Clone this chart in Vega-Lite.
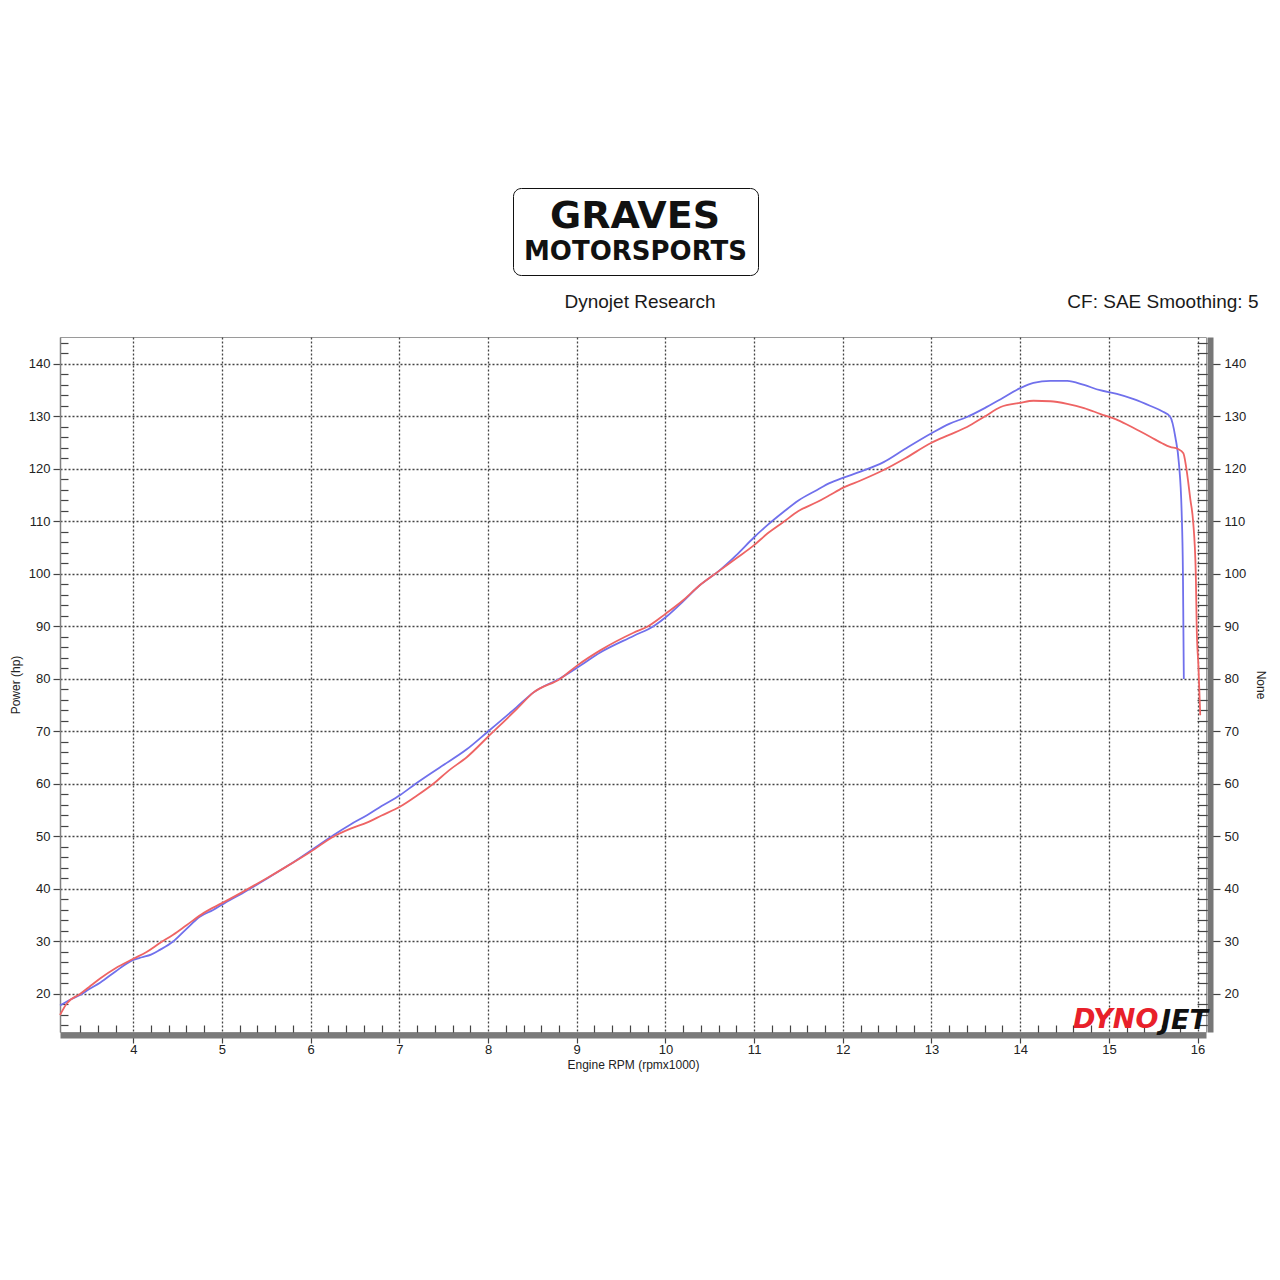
{
  "$schema": "https://vega.github.io/schema/vega-lite/v6.json",
  "width": 1146,
  "height": 695,
  "autosize": {"type": "none"},
  "padding": {"left": 60, "top": 337, "right": 74, "bottom": 248},
  "background": "white",
  "config": {
    "view": {"stroke": "#9a9a9a", "strokeWidth": 1},
    "font": "Liberation Sans"
  },
  "title": {"text": "Dynojet Research", "anchor": "middle", "fontSize": 19, "fontWeight": "normal", "font": "Liberation Sans", "color": "#1a1a1a", "offset": -124, "dx": 7},
  "data": {"values": [
    {"series":"Run 1","rpm":3.174,"hp":17.8},{"series":"Run 1","rpm":3.3,"hp":19.0},{"series":"Run 1","rpm":3.4,"hp":19.8},{"series":"Run 1","rpm":3.5,"hp":20.9},{"series":"Run 1","rpm":3.63,"hp":22.2},{"series":"Run 1","rpm":3.8,"hp":24.3},{"series":"Run 1","rpm":4.0,"hp":26.5},{"series":"Run 1","rpm":4.1,"hp":27.0},{"series":"Run 1","rpm":4.2,"hp":27.5},{"series":"Run 1","rpm":4.3,"hp":28.4},{"series":"Run 1","rpm":4.45,"hp":30.0},{"series":"Run 1","rpm":4.6,"hp":32.4},{"series":"Run 1","rpm":4.75,"hp":34.7},{"series":"Run 1","rpm":4.9,"hp":36.0},{"series":"Run 1","rpm":5.0,"hp":37.0},{"series":"Run 1","rpm":5.25,"hp":39.4},{"series":"Run 1","rpm":5.5,"hp":41.9},{"series":"Run 1","rpm":5.75,"hp":44.5},{"series":"Run 1","rpm":6.0,"hp":47.3},{"series":"Run 1","rpm":6.26,"hp":50.3},{"series":"Run 1","rpm":6.45,"hp":52.3},{"series":"Run 1","rpm":6.64,"hp":54.1},{"series":"Run 1","rpm":6.8,"hp":55.8},{"series":"Run 1","rpm":7.01,"hp":57.9},{"series":"Run 1","rpm":7.18,"hp":60.0},{"series":"Run 1","rpm":7.46,"hp":63.2},{"series":"Run 1","rpm":7.76,"hp":66.6},{"series":"Run 1","rpm":8.0,"hp":70.0},{"series":"Run 1","rpm":8.32,"hp":74.6},{"series":"Run 1","rpm":8.51,"hp":77.4},{"series":"Run 1","rpm":8.82,"hp":80.2},{"series":"Run 1","rpm":9.0,"hp":82.1},{"series":"Run 1","rpm":9.27,"hp":85.1},{"series":"Run 1","rpm":9.64,"hp":88.2},{"series":"Run 1","rpm":9.87,"hp":90.1},{"series":"Run 1","rpm":10.02,"hp":92.0},{"series":"Run 1","rpm":10.2,"hp":94.8},{"series":"Run 1","rpm":10.39,"hp":97.9},{"series":"Run 1","rpm":10.59,"hp":100.4},{"series":"Run 1","rpm":10.8,"hp":103.6},{"series":"Run 1","rpm":11.0,"hp":107.0},{"series":"Run 1","rpm":11.15,"hp":109.3},{"series":"Run 1","rpm":11.33,"hp":111.8},{"series":"Run 1","rpm":11.5,"hp":114.0},{"series":"Run 1","rpm":11.71,"hp":116.0},{"series":"Run 1","rpm":11.85,"hp":117.3},{"series":"Run 1","rpm":12.0,"hp":118.3},{"series":"Run 1","rpm":12.2,"hp":119.5},{"series":"Run 1","rpm":12.46,"hp":121.3},{"series":"Run 1","rpm":12.7,"hp":123.8},{"series":"Run 1","rpm":13.0,"hp":126.8},{"series":"Run 1","rpm":13.2,"hp":128.6},{"series":"Run 1","rpm":13.4,"hp":129.9},{"series":"Run 1","rpm":13.6,"hp":131.6},{"series":"Run 1","rpm":13.78,"hp":133.3},{"series":"Run 1","rpm":14.0,"hp":135.4},{"series":"Run 1","rpm":14.15,"hp":136.4},{"series":"Run 1","rpm":14.34,"hp":136.8},{"series":"Run 1","rpm":14.53,"hp":136.8},{"series":"Run 1","rpm":14.72,"hp":136.0},{"series":"Run 1","rpm":14.9,"hp":135.0},{"series":"Run 1","rpm":15.09,"hp":134.3},{"series":"Run 1","rpm":15.28,"hp":133.3},{"series":"Run 1","rpm":15.47,"hp":132.0},{"series":"Run 1","rpm":15.6,"hp":131.0},{"series":"Run 1","rpm":15.69,"hp":130.0},{"series":"Run 1","rpm":15.75,"hp":126.0},{"series":"Run 1","rpm":15.79,"hp":121.0},{"series":"Run 1","rpm":15.82,"hp":112.0},{"series":"Run 1","rpm":15.835,"hp":100.0},{"series":"Run 1","rpm":15.84,"hp":90.0},{"series":"Run 1","rpm":15.845,"hp":80.0},
    {"series":"Run 2","rpm":3.174,"hp":16.0},{"series":"Run 2","rpm":3.25,"hp":18.2},{"series":"Run 2","rpm":3.4,"hp":20.0},{"series":"Run 2","rpm":3.5,"hp":21.3},{"series":"Run 2","rpm":3.63,"hp":23.0},{"series":"Run 2","rpm":3.8,"hp":24.9},{"series":"Run 2","rpm":4.0,"hp":26.7},{"series":"Run 2","rpm":4.15,"hp":28.0},{"series":"Run 2","rpm":4.3,"hp":29.7},{"series":"Run 2","rpm":4.45,"hp":31.3},{"series":"Run 2","rpm":4.6,"hp":33.1},{"series":"Run 2","rpm":4.8,"hp":35.5},{"series":"Run 2","rpm":5.0,"hp":37.3},{"series":"Run 2","rpm":5.25,"hp":39.6},{"series":"Run 2","rpm":5.5,"hp":42.0},{"series":"Run 2","rpm":5.75,"hp":44.5},{"series":"Run 2","rpm":6.0,"hp":47.1},{"series":"Run 2","rpm":6.26,"hp":50.0},{"series":"Run 2","rpm":6.45,"hp":51.5},{"series":"Run 2","rpm":6.64,"hp":52.7},{"series":"Run 2","rpm":6.8,"hp":54.0},{"series":"Run 2","rpm":7.01,"hp":55.7},{"series":"Run 2","rpm":7.2,"hp":57.8},{"series":"Run 2","rpm":7.38,"hp":60.0},{"series":"Run 2","rpm":7.56,"hp":62.6},{"series":"Run 2","rpm":7.76,"hp":65.1},{"series":"Run 2","rpm":8.0,"hp":69.0},{"series":"Run 2","rpm":8.32,"hp":74.2},{"series":"Run 2","rpm":8.51,"hp":77.4},{"series":"Run 2","rpm":8.82,"hp":80.1},{"series":"Run 2","rpm":9.0,"hp":82.5},{"series":"Run 2","rpm":9.27,"hp":85.5},{"series":"Run 2","rpm":9.64,"hp":88.8},{"series":"Run 2","rpm":9.8,"hp":90.0},{"series":"Run 2","rpm":10.0,"hp":92.4},{"series":"Run 2","rpm":10.2,"hp":95.0},{"series":"Run 2","rpm":10.39,"hp":97.9},{"series":"Run 2","rpm":10.59,"hp":100.4},{"series":"Run 2","rpm":10.8,"hp":103.0},{"series":"Run 2","rpm":11.0,"hp":105.5},{"series":"Run 2","rpm":11.15,"hp":107.7},{"series":"Run 2","rpm":11.33,"hp":109.9},{"series":"Run 2","rpm":11.5,"hp":112.0},{"series":"Run 2","rpm":11.71,"hp":113.7},{"series":"Run 2","rpm":11.85,"hp":115.0},{"series":"Run 2","rpm":12.0,"hp":116.4},{"series":"Run 2","rpm":12.2,"hp":117.8},{"series":"Run 2","rpm":12.46,"hp":119.8},{"series":"Run 2","rpm":12.7,"hp":122.0},{"series":"Run 2","rpm":13.0,"hp":125.0},{"series":"Run 2","rpm":13.2,"hp":126.5},{"series":"Run 2","rpm":13.4,"hp":128.0},{"series":"Run 2","rpm":13.6,"hp":130.0},{"series":"Run 2","rpm":13.78,"hp":131.8},{"series":"Run 2","rpm":14.0,"hp":132.6},{"series":"Run 2","rpm":14.15,"hp":133.0},{"series":"Run 2","rpm":14.34,"hp":132.9},{"series":"Run 2","rpm":14.53,"hp":132.4},{"series":"Run 2","rpm":14.72,"hp":131.6},{"series":"Run 2","rpm":14.9,"hp":130.5},{"series":"Run 2","rpm":15.1,"hp":129.3},{"series":"Run 2","rpm":15.28,"hp":127.8},{"series":"Run 2","rpm":15.47,"hp":126.1},{"series":"Run 2","rpm":15.6,"hp":124.9},{"series":"Run 2","rpm":15.69,"hp":124.2},{"series":"Run 2","rpm":15.78,"hp":123.8},{"series":"Run 2","rpm":15.84,"hp":123.0},{"series":"Run 2","rpm":15.87,"hp":120.5},{"series":"Run 2","rpm":15.92,"hp":114.0},{"series":"Run 2","rpm":15.95,"hp":110.0},{"series":"Run 2","rpm":15.98,"hp":100.0},{"series":"Run 2","rpm":15.99,"hp":90.0},{"series":"Run 2","rpm":16.01,"hp":82.3},{"series":"Run 2","rpm":16.03,"hp":73.1}
  ]},
  "layer": [
    {
      "transform": [{"filter": "datum.series === 'Run 1'"}],
      "mark": {"type": "line", "strokeWidth": 1.8, "interpolate": "monotone"},
      "encoding": {
        "x": {"field": "rpm", "type": "quantitative",
          "scale": {"domain": [3.174, 16.095], "nice": false, "zero": false},
          "axis": {
            "orient": "bottom",
            "values": [3.4,3.6,3.8,4,4.2,4.4,4.6,4.8,5,5.2,5.4,5.6,5.8,6,6.2,6.4,6.6,6.8,7,7.2,7.4,7.6,7.8,8,8.2,8.4,8.6,8.8,9,9.2,9.4,9.6,9.8,10,10.2,10.4,10.6,10.8,11,11.2,11.4,11.6,11.8,12,12.2,12.4,12.6,12.8,13,13.2,13.4,13.6,13.8,14,14.2,14.4,14.6,14.8,15,15.2,15.4,15.6,15.8,16],
            "title": "Engine RPM (rpmx1000)",
            "titleFontSize": 12, "titleFontWeight": "normal", "titleColor": "#222", "titlePadding": 3,
            "labelExpr": "abs(datum.value - round(datum.value)) < 0.01 ? format(round(datum.value), 'd') : ''",
            "labelFontSize": 13, "labelColor": "#222", "labelPadding": 0, "labelFlush": false, "labelOverlap": false, "labelBound": false,
            "domainColor": "#7a7a7a", "domainWidth": 6, "offset": 3,
            "tickColor": "#444", "tickWidth": 1.2,
            "tickSize": {"condition": {"test": "abs(datum.value - round(datum.value)) < 0.01", "value": 8}, "value": -10},
            "grid": true, "gridColor": "#444", "gridDash": [2, 2], "gridWidth": 1.3,
            "gridOpacity": {"condition": {"test": "abs(datum.value - round(datum.value)) < 0.01", "value": 1}, "value": 0}
          }
        },
        "y": {"field": "hp", "type": "quantitative",
          "scale": {"domain": [12.76, 145.14], "nice": false, "zero": false},
          "axis": {
            "orient": "left",
            "values": [14,16,18,20,22,24,26,28,30,32,34,36,38,40,42,44,46,48,50,52,54,56,58,60,62,64,66,68,70,72,74,76,78,80,82,84,86,88,90,92,94,96,98,100,102,104,106,108,110,112,114,116,118,120,122,124,126,128,130,132,134,136,138,140,142,144],
            "title": "Power (hp)", "titleFontSize": 12, "titleFontWeight": "normal", "titleColor": "#222", "titlePadding": 6,
            "labelExpr": "datum.value % 10 === 0 ? datum.value : ''",
            "labelFontSize": 13, "labelColor": "#222", "labelPadding": 3, "labelOverlap": false, "labelBound": false,
            "domainColor": "#808080", "domainWidth": 1.5,
            "tickColor": "#444", "tickWidth": 1.2,
            "tickSize": {"condition": {"test": "datum.value % 10 === 0", "value": 7}, "value": -8},
            "grid": true, "gridColor": "#444", "gridDash": [2, 2], "gridWidth": 1.3,
            "gridOpacity": {"condition": {"test": "datum.value % 10 === 0", "value": 1}, "value": 0}
          }
        },
        "color": {"field": "series", "type": "nominal",
          "scale": {"domain": ["Run 1", "Run 2"], "range": ["#7070ec", "#ee6464"]},
          "legend": {
            "orient": "none", "legendX": 453, "legendY": -149,
            "title": "GRAVES", "titleFont": "DejaVu Sans", "titleFontSize": 38, "titleFontWeight": 900, "titleColor": "#111", "titlePadding": 3, "titleLimit": 400, "titleAnchor": "middle",
            "values": ["Run 1"], "labelExpr": "'MOTORSPORTS'", "labelFont": "DejaVu Sans", "labelFontSize": 26, "labelFontWeight": "bold", "labelColor": "#111", "labelLimit": 400, "labelOffset": -25,
            "symbolType": "circle", "symbolOpacity": 0, "symbolSize": 0, "symbolStrokeWidth": 0,
            "strokeColor": "#111", "cornerRadius": 8, "padding": 10, "fillColor": "white"
          }
        }
      }
    },
    {
      "transform": [{"filter": "datum.series === 'Run 2'"}],
      "mark": {"type": "line", "strokeWidth": 1.8, "interpolate": "monotone"},
      "encoding": {
        "x": {"field": "rpm", "type": "quantitative",
          "scale": {"domain": [3.174, 16.095], "nice": false, "zero": false},
          "axis": {
            "orient": "top", "domain": false, "ticks": false, "labels": false, "grid": false,
            "title": "CF: SAE Smoothing: 5", "titleFontSize": 19, "titleFontWeight": "normal", "titleColor": "#1a1a1a",
            "titleX": 1198, "titleAlign": "right", "titlePadding": 26
          }
        },
        "y": {"field": "hp", "type": "quantitative",
          "scale": {"domain": [12.76, 145.14], "nice": false, "zero": false},
          "axis": {
            "orient": "right",
            "values": [14,16,18,20,22,24,26,28,30,32,34,36,38,40,42,44,46,48,50,52,54,56,58,60,62,64,66,68,70,72,74,76,78,80,82,84,86,88,90,92,94,96,98,100,102,104,106,108,110,112,114,116,118,120,122,124,126,128,130,132,134,136,138,140,142,144],
            "title": "None", "titleFontSize": 12, "titleFontWeight": "normal", "titleColor": "#222", "titlePadding": 8,
            "labelExpr": "datum.value % 10 === 0 ? datum.value : ''",
            "labelFontSize": 13, "labelColor": "#222", "labelPadding": 4, "labelOverlap": false, "labelBound": false,
            "domainColor": "#777", "domainWidth": 6, "offset": 4,
            "tickColor": "#444", "tickWidth": 1.2,
            "tickSize": {"condition": {"test": "datum.value % 10 === 0", "value": 10}, "value": -13},
            "grid": false
          }
        },
        "color": {"field": "series", "type": "nominal",
          "scale": {"domain": ["Run 1", "Run 2"], "range": ["#7070ec", "#ee6464"]}},
        "opacity": {"field": "series", "type": "nominal",
          "scale": {"domain": ["Run 1", "Run 2"], "range": [1, 1]},
          "legend": {
            "orient": "bottom-right", "offset": -2, "padding": 0,
            "title": "DYNO", "titleOrient": "left", "titleFont": "DejaVu Sans", "titleFontSize": 27, "titleFontWeight": "bold", "titleFontStyle": "italic", "titleColor": "#e8202a", "titlePadding": 0,
            "values": ["Run 2"], "labelExpr": "'JET'", "labelFont": "DejaVu Sans", "labelFontSize": 27, "labelFontWeight": "bold", "labelFontStyle": "italic", "labelColor": "#111", "labelOffset": -25,
            "symbolType": "circle", "symbolOpacity": 0, "symbolSize": 0, "symbolStrokeWidth": 0
          }
        }
      }
    }
  ],
  "resolve": {"axis": {"x": "independent", "y": "independent"}}
}
